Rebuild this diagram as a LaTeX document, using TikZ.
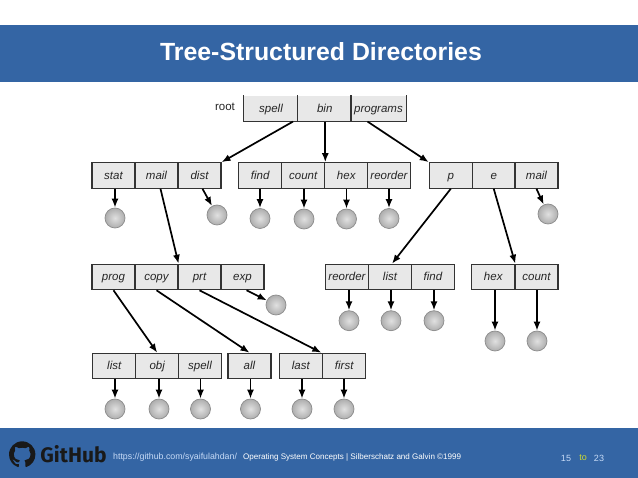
\documentclass[tikz,border=0pt]{standalone}
\usepackage{fontspec}
\setmainfont{Liberation Sans}
\newfontfamily\logofont{Fira Sans}
\usetikzlibrary{arrows.meta,svg.path}

\tikzset{
	cell/.style={draw=color3, fill=color2, line width=1.1pt, inner sep=0pt, minimum height=25.5pt, text height=10pt, text depth=2.4pt, font=\fontsize{11.5}{12}\selectfont\itshape, text=color4},
	cell2/.style={cell, minimum width=43pt},
	rootcell/.style={cell, draw=none, minimum height=25pt},
	rootline/.style={draw=color3, line width=1.1pt},
	ball/.style={circle, draw=color5, line width=0.7pt, inner sep=0pt, minimum size=20pt, shading=radial, inner color=color6, outer color=color9},
	edge/.style={-{Latex[length=9pt,width=7pt]}, line width=1.7pt, color=black},
}

\begin{document}
\begin{tikzpicture}[x=1pt, y=-1pt]
	\definecolor{color1}{rgb}{0.204, 0.396, 0.643}
	\definecolor{color2}{gray}{0.91}
	\definecolor{color3}{gray}{0.2}
	\definecolor{color4}{gray}{0.15}
	\definecolor{color5}{gray}{0.55}
	\definecolor{color6}{gray}{0.88}
	\definecolor{color7}{rgb}{0.78, 0.86, 0.97}
	\definecolor{color8}{rgb}{0.8, 0.85, 0.2}
	\definecolor{color9}{gray}{0.68}
	\useasboundingbox (0,0) rectangle (638,478);
	%% Bands ---------
	\node[fill=color1, minimum width=638pt, minimum height=57pt, inner sep=0pt] (header) at (319,53.5) {};
	\node[fill=color1, minimum width=638pt, minimum height=50pt, inner sep=0pt] (footer) at (319,453) {};
	\node[text=white, font=\fontsize{24.85}{27}\selectfont\bfseries] (title) at (321,52) {Tree-Structured Directories};
	\fill[color=black!90, shift={(9,441)}, xscale=1.1, yscale=-1.1] svg "M12 .297c-6.63 0-12 5.373-12 12 0 5.303 3.438 9.8 8.205 11.385.6.113.82-.258.82-.577 0-.285-.01-1.04-.015-2.04-3.338.724-4.042-1.61-4.042-1.61C4.422 18.07 3.633 17.7 3.633 17.7c-1.087-.744.084-.729.084-.729 1.205.084 1.838 1.236 1.838 1.236 1.07 1.835 2.809 1.305 3.495.998.108-.776.417-1.305.76-1.605-2.665-.3-5.466-1.332-5.466-5.93 0-1.31.465-2.38 1.235-3.22-.135-.303-.54-1.523.105-3.176 0 0 1.005-.322 3.3 1.23.96-.267 1.98-.399 3-.405 1.02.006 2.04.138 3 .405 2.28-1.552 3.285-1.23 3.285-1.23.645 1.653.24 2.873.12 3.176.765.84 1.23 1.91 1.23 3.22 0 4.61-2.805 5.625-5.475 5.92.42.36.81 1.096.81 2.22 0 1.606-.015 2.896-.03 3.286 0 .315.21.69.825.57C20.565 22.092 24 17.592 24 12.297c0-6.627-5.373-12-12-12";
	\node[text=black!90, font=\logofont\fontsize{21}{24}\selectfont\bfseries] (logo) at (73.5,454) {GitHub};
	\node[text=color7, font=\fontsize{8.8}{10}\selectfont, anchor=west, inner sep=0pt] (url) at (113,457) {https://github.com/syaifulahdan/};
	\node[text=white, font=\fontsize{8.05}{10}\selectfont, anchor=west, inner sep=0pt] (source) at (243,457.5) {Operating System Concepts | Silberschatz and Galvin ©1999};
	\node[text=color7, font=\fontsize{9}{10}\selectfont] (first15) at (566,458) {15};
	\node[text=color8, font=\fontsize{9}{10}\selectfont] (to) at (583,457.5) {to};
	\node[text=color7, font=\fontsize{9}{10}\selectfont] (last23) at (599,458) {23};
	%% Cells ---------
	\node[font=\fontsize{11.5}{12}\selectfont, text=color4] (root) at (225,107) {root};
	\node[rootcell, minimum width=54pt] (spell) at (271,108.5) {spell};
	\node[rootcell, minimum width=53.5pt] (bin) at (324.75,108.5) {bin};
	\node[rootcell, minimum width=54pt] (programs) at (378.5,108.5) {programs};
	\draw[rootline] (spell.north west) -- (spell.south west) -- (programs.south east) -- (programs.north east);
	\draw[rootline] (bin.north west) -- (bin.south west);
	\draw[rootline] (programs.north west) -- (programs.south west);
	\node[cell2] (stat) at (113.5,175.5) {stat};
	\node[cell2] (mail) at (156.5,175.5) {mail};
	\node[cell2] (dist) at (199.5,175.5) {dist};
	\node[cell2] (find) at (260.25,175.5) {find};
	\node[cell2] (count) at (303.25,175.5) {count};
	\node[cell2] (hex) at (346.25,175.5) {hex};
	\node[cell2] (reorder) at (389,175.5) {reorder};
	\node[cell2] (p) at (450.75,175.5) {p};
	\node[cell2] (e) at (493.75,175.5) {e};
	\node[cell2] (mailb) at (536.5,175.5) {mail};
	\node[cell2] (prog) at (113.5,277) {prog};
	\node[cell2] (copy) at (156.5,277) {copy};
	\node[cell2] (prt) at (199.5,277) {prt};
	\node[cell2] (exp) at (242.5,277) {exp};
	\node[cell2] (reorderb) at (347,277) {reorder};
	\node[cell2] (listb) at (390,277) {list};
	\node[cell2] (findb) at (433,277) {find};
	\node[cell2] (hexb) at (493.25,277) {hex};
	\node[cell2] (countb) at (536.5,277) {count};
	\node[cell2] (list) at (114.25,366) {list};
	\node[cell2] (obj) at (157.25,366) {obj};
	\node[cell2] (spellb) at (200,366) {spell};
	\node[cell2] (all) at (249.5,366) {all};
	\node[cell2] (last) at (300.75,366) {last};
	\node[cell2] (firstc) at (344.25,366) {first};
	%% Balls ---------
	\node[ball] (statball) at (115,218) {};
	\node[ball] (distball) at (217,215) {};
	\node[ball] (findball) at (260,218.5) {};
	\node[ball] (countball) at (304,219) {};
	\node[ball] (hexball) at (346.5,219) {};
	\node[ball] (reorderball) at (389,218.5) {};
	\node[ball] (mailball) at (548,214) {};
	\node[ball] (expball) at (276,305) {};
	\node[ball] (reorderbball) at (349,320.7) {};
	\node[ball] (listbball) at (391,320.7) {};
	\node[ball] (findbball) at (434,320.7) {};
	\node[ball] (hexbball) at (495,341) {};
	\node[ball] (countbball) at (537,341) {};
	\node[ball] (listball) at (115,409) {};
	\node[ball] (objball) at (159,409) {};
	\node[ball] (spellball) at (200.5,409) {};
	\node[ball] (allball) at (250.5,409) {};
	\node[ball] (lastball) at (302,409) {};
	\node[ball] (firstball) at (344,409) {};
	%% Edges ---------
	\draw[edge] ([xshift=-5.5pt]spell.south east) -- (dist.north east);
	\draw[edge] (count.north east |- bin.south) -- (count.north east);
	\draw[edge] ([xshift=-11pt]programs.south) -- (p.north west);
	\draw[edge] ([xshift=4pt]mail.south) -- (copy.north east);
	\draw[edge] (p.south) -- ([xshift=2pt]listb.north);
	\draw[edge] (e.south) -- (hexb.north east);
	\draw[edge] (prog.south) -- (obj.north);
	\draw[edge] (copy.south) -- (all.north);
	\draw[edge] (prt.south) -- ([xshift=-1.5pt]last.north east);
	\draw[edge] ([xshift=4pt]exp.south) -- (expball);
	\draw[edge] ([xshift=3pt]dist.south) -- (distball);
	\draw[edge] (mailb.south) -- (mailball);
	\draw[edge] (statball |- stat.south) -- (statball);
	\draw[edge] (findball |- find.south) -- (findball);
	\draw[edge] (countball |- count.south) -- (countball);
	\draw[edge] (hexball |- hex.south) -- (hexball);
	\draw[edge] (reorderball |- reorder.south) -- (reorderball);
	\draw[edge] (reorderbball |- reorderb.south) -- (reorderbball);
	\draw[edge] (listbball |- listb.south) -- (listbball);
	\draw[edge] (findbball |- findb.south) -- (findbball);
	\draw[edge] (hexbball |- hexb.south) -- (hexbball);
	\draw[edge] (countbball |- countb.south) -- (countbball);
	\draw[edge] (listball |- list.south) -- (listball);
	\draw[edge] (objball |- obj.south) -- (objball);
	\draw[edge] (spellball |- spellb.south) -- (spellball);
	\draw[edge] (allball |- all.south) -- (allball);
	\draw[edge] (lastball |- last.south) -- (lastball);
	\draw[edge] (firstball |- firstc.south) -- (firstball);
\end{tikzpicture}
\end{document}
